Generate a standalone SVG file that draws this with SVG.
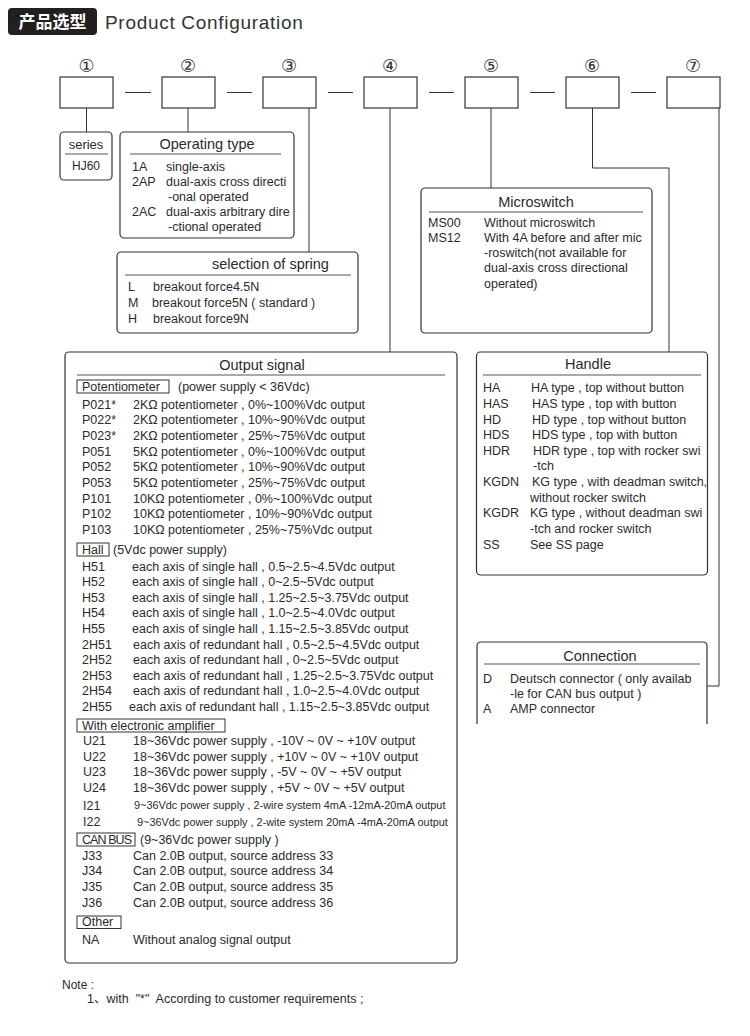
<svg xmlns="http://www.w3.org/2000/svg" width="750" height="1036" viewBox="0 0 750 1036">
<style>
text{font-family:"Liberation Sans","Noto Sans CJK SC",sans-serif;fill:#2b2b2b;font-size:12.5px}
.t{font-size:14.5px;text-anchor:middle}
.c{text-anchor:middle}
.s{font-size:10.9px}
.box{fill:none;stroke:#333;stroke-width:1.2}
.pb{fill:none;stroke:#333;stroke-width:1}
.ul{stroke:#555;stroke-width:1}
.ln{fill:none;stroke:#333;stroke-width:1}
.num{font-family:"DejaVu Sans","Noto Sans CJK SC",sans-serif;font-size:18px;text-anchor:middle;fill:#333}
</style>
<rect width="750" height="1036" fill="#fff"/>
<g id="header">
<rect x="8" y="8" width="89" height="27" rx="4" fill="#231f20"/>
<text x="52.5" y="28" style="font-family:'Noto Sans CJK SC',sans-serif;font-size:17px;font-weight:bold;fill:#fff;text-anchor:middle">产品选型</text>
<text x="105" y="29" style="font-size:19px;fill:#333;letter-spacing:0.7px">Product Configuration</text>
</g>
<g id="code-boxes">
<g id="b1"><text class="num" x="86.5" y="72">①</text><rect class="box" x="60" y="77" width="53" height="31"/></g>
<g id="b2"><text class="num" x="188" y="72">②</text><rect class="box" x="162" y="77" width="53" height="31"/></g>
<g id="b3"><text class="num" x="289" y="72">③</text><rect class="box" x="263" y="77" width="53" height="31"/></g>
<g id="b4"><text class="num" x="390" y="72">④</text><rect class="box" x="364" y="77" width="53" height="31"/></g>
<g id="b5"><text class="num" x="491" y="72">⑤</text><rect class="box" x="465" y="77" width="53" height="31"/></g>
<g id="b6"><text class="num" x="592" y="72">⑥</text><rect class="box" x="566" y="77" width="53" height="31"/></g>
<g id="b7"><text class="num" x="693" y="72">⑦</text><rect class="box" x="667" y="77" width="53" height="31"/></g>
<g id="dashes">
<line class="ln" x1="125" y1="92.5" x2="151" y2="92.5"/>
<line class="ln" x1="227" y1="92.5" x2="252" y2="92.5"/>
<line class="ln" x1="328" y1="92.5" x2="353" y2="92.5"/>
<line class="ln" x1="429" y1="92.5" x2="454" y2="92.5"/>
<line class="ln" x1="530" y1="92.5" x2="555" y2="92.5"/>
<line class="ln" x1="631" y1="92.5" x2="656" y2="92.5"/>
</g>
</g>
<g id="connectors">
<path class="ln" d="M86.5,108V132"/>
<path class="ln" d="M188,108V132"/>
<path class="ln" d="M309,108V252"/>
<path class="ln" d="M390,108V352"/>
<path class="ln" d="M491,108V188"/>
<path class="ln" d="M592.5,108V168H669V352"/>
<path class="ln" d="M719,108V686H707"/>
</g>
<g id="series">
<rect class="box" x="60" y="132" width="52" height="48" rx="4"/>
<text class="c" x="86" y="149" style="font-size:13px">series</text>
<line class="ul" x1="65" y1="154" x2="108" y2="154"/>
<text class="c" x="86" y="170" style="font-size:12px">HJ60</text>
</g>
<g id="operating-type">
<rect class="box" x="120" y="132" width="174" height="106" rx="4"/>
<text class="t" x="207" y="149">Operating type</text>
<line class="ul" x1="130" y1="154" x2="281" y2="154"/>
<text x="132" y="171">1A</text><text x="166" y="171">single-axis</text>
<text x="132" y="186">2AP</text><text x="166" y="186">dual-axis cross directi</text>
<text x="168" y="201">-onal operated</text>
<text x="132" y="216">2AC</text><text x="166" y="216">dual-axis arbitrary dire</text>
<text x="168" y="231">-ctional operated</text>
</g>
<g id="spring">
<rect class="box" x="117" y="252" width="241" height="81" rx="4"/>
<text x="212" y="269" style="font-size:14.5px">selection of spring</text>
<line class="ul" x1="125" y1="275" x2="351" y2="275"/>
<text x="128" y="291">L</text><text x="153" y="291">breakout force4.5N</text>
<text x="128" y="307">M</text><text x="152" y="307">breakout force5N ( standard )</text>
<text x="128" y="323">H</text><text x="153" y="323">breakout force9N</text>
</g>
<g id="microswitch">
<rect class="box" x="421" y="188" width="231" height="145" rx="4"/>
<text class="t" x="536" y="207">Microswitch</text>
<line class="ul" x1="429" y1="212" x2="643" y2="212"/>
<text x="428" y="227">MS00</text><text x="484" y="227">Without microswitch</text>
<text x="428" y="242">MS12</text><text x="484" y="242">With 4A before and after mic</text>
<text x="484" y="257">-roswitch(not available for</text>
<text x="484" y="272">dual-axis cross directional</text>
<text x="484" y="288">operated)</text>
</g>
<g id="output-signal">
<rect class="box" x="65" y="352" width="392" height="611" rx="4"/>
<text class="t" x="262" y="370">Output signal</text>
<line class="ul" x1="77" y1="375" x2="445" y2="375"/>
<rect class="pb" x="77" y="380" width="92" height="13"/>
<text x="82" y="390.5">Potentiometer</text><text x="178" y="390.5">(power supply &lt; 36Vdc)</text>
<text x="82" y="408.5">P021*</text><text x="133" y="408.5">2KΩ potentiometer , 0%~100%Vdc output</text>
<text x="82" y="424">P022*</text><text x="133" y="424">2KΩ potentiometer , 10%~90%Vdc output</text>
<text x="82" y="440">P023*</text><text x="133" y="440">2KΩ potentiometer , 25%~75%Vdc output</text>
<text x="82" y="455.5">P051</text><text x="133" y="455.5">5KΩ potentiometer , 0%~100%Vdc output</text>
<text x="82" y="471">P052</text><text x="133" y="471">5KΩ potentiometer , 10%~90%Vdc output</text>
<text x="82" y="486.5">P053</text><text x="133" y="486.5">5KΩ potentiometer , 25%~75%Vdc output</text>
<text x="82" y="502.5">P101</text><text x="133" y="502.5">10KΩ potentiometer , 0%~100%Vdc output</text>
<text x="82" y="518">P102</text><text x="133" y="518">10KΩ potentiometer , 10%~90%Vdc output</text>
<text x="82" y="533.5">P103</text><text x="133" y="533.5">10KΩ potentiometer , 25%~75%Vdc output</text>
<rect class="pb" x="77" y="543" width="32" height="13"/>
<text x="82" y="553.5">Hall</text><text x="113" y="553.5">(5Vdc power supply)</text>
<text x="82" y="571">H51</text><text x="132" y="571">each axis of single hall , 0.5~2.5~4.5Vdc output</text>
<text x="82" y="586">H52</text><text x="132" y="586">each axis of single hall , 0~2.5~5Vdc output</text>
<text x="82" y="601.5">H53</text><text x="132" y="601.5">each axis of single hall , 1.25~2.5~3.75Vdc output</text>
<text x="82" y="617">H54</text><text x="132" y="617">each axis of single hall , 1.0~2.5~4.0Vdc output</text>
<text x="82" y="632.5">H55</text><text x="132" y="632.5">each axis of single hall , 1.15~2.5~3.85Vdc output</text>
<text x="82" y="648.5">2H51</text><text x="133" y="648.5">each axis of redundant hall  , 0.5~2.5~4.5Vdc output</text>
<text x="82" y="663.5">2H52</text><text x="133" y="663.5">each axis of redundant hall  , 0~2.5~5Vdc output</text>
<text x="82" y="679.5">2H53</text><text x="133" y="679.5">each axis of redundant hall  , 1.25~2.5~3.75Vdc output</text>
<text x="82" y="695">2H54</text><text x="133" y="695">each axis of redundant hall  , 1.0~2.5~4.0Vdc output</text>
<text x="82" y="711">2H55</text><text x="129" y="711">each axis of redundant hall  , 1.15~2.5~3.85Vdc output</text>
<rect class="pb" x="77" y="719" width="148" height="13"/>
<text x="82" y="730">With electronic amplifier</text>
<text x="83" y="745">U21</text><text x="133" y="745">18~36Vdc power supply , -10V ~ 0V ~ +10V output</text>
<text x="83" y="760.5">U22</text><text x="133" y="760.5">18~36Vdc power supply , +10V ~ 0V ~ +10V output</text>
<text x="83" y="776">U23</text><text x="133" y="776">18~36Vdc power supply , -5V ~ 0V ~ +5V output</text>
<text x="83" y="791.5">U24</text><text x="133" y="791.5">18~36Vdc power supply , +5V ~ 0V ~ +5V output</text>
<text x="83" y="809.5">I21</text><text class="s" x="134" y="809">9~36Vdc power supply , 2-wire system 4mA -12mA-20mA output</text>
<text x="83" y="826">I22</text><text class="s" x="137" y="825.5">9~36Vdc power supply , 2-wite system 20mA -4mA-20mA output</text>
<rect class="pb" x="77" y="833" width="58" height="13"/>
<text x="82" y="843.5" textLength="50">CAN BUS</text><text x="140" y="843.5">(9~36Vdc power supply )</text>
<text x="82" y="859.5">J33</text><text x="133" y="859.5">Can 2.0B output, source address 33</text>
<text x="82" y="875">J34</text><text x="133" y="875">Can 2.0B output, source address 34</text>
<text x="82" y="891">J35</text><text x="133" y="891">Can 2.0B output, source address 35</text>
<text x="82" y="906.5">J36</text><text x="133" y="906.5">Can 2.0B output, source address 36</text>
<rect class="pb" x="77" y="916" width="44" height="12.5"/>
<text x="82" y="926">Other</text>
<text x="82" y="943.5">NA</text><text x="133" y="943.5">Without analog signal output</text>
</g>
<g id="handle">
<rect class="box" x="476.5" y="352" width="231" height="223" rx="4"/>
<text class="t" x="588" y="369">Handle</text>
<line class="ul" x1="483" y1="375" x2="701" y2="375"/>
<text x="483" y="392">HA</text><text x="531" y="392">HA type , top without button</text>
<text x="483" y="407.5">HAS</text><text x="532" y="407.5">HAS type , top with button</text>
<text x="483" y="423.5">HD</text><text x="532" y="423.5">HD type ,  top without button</text>
<text x="483" y="438.5">HDS</text><text x="532" y="438.5">HDS type , top with button</text>
<text x="483" y="454.5">HDR</text><text x="533" y="454.5">HDR type , top with rocker swi</text>
<text x="533" y="470">-tch</text>
<text x="483" y="486">KGDN</text><text x="532" y="486">KG type , with deadman switch,</text>
<text x="530" y="501.5">without rocker switch</text>
<text x="483" y="517">KGDR</text><text x="530" y="517">KG type , without deadman swi</text>
<text x="530" y="532.5">-tch and rocker switch</text>
<text x="483" y="548.5">SS</text><text x="530" y="548.5">See SS page</text>
</g>
<g id="connection">
<path class="box" d="M477,724V646Q477,642 481,642H703Q707,642 707,646V724"/>
<text class="t" x="600" y="660.5">Connection</text>
<line class="ul" x1="484" y1="664" x2="700" y2="664"/>
<text x="483" y="682.5">D</text><text x="510" y="682.5">Deutsch connector ( only availab</text>
<text x="510" y="697.5">-le for CAN bus output )</text>
<text x="483" y="713">A</text><text x="510" y="713">AMP connector</text>
</g>
<g id="note">
<text x="62" y="989" style="font-size:12px">Note :</text>
<text x="87" y="1003" style="font-size:12.5px" xml:space="preserve">1、with  "*"  According to customer requirements ;</text>
</g>
</svg>
